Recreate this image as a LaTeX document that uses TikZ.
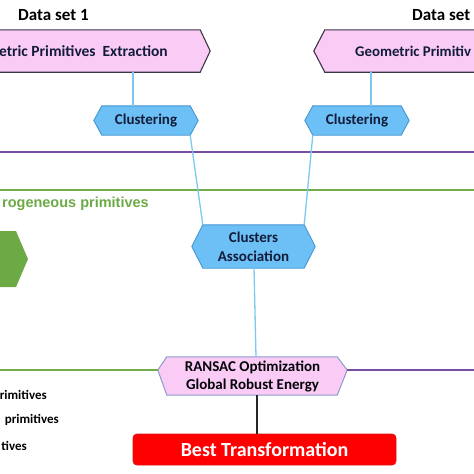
\documentclass[tikz,border=0pt]{standalone}
\usepackage{fontspec}
\setmainfont{Carlito}
\newfontfamily\arialfam{Liberation Sans}
\usetikzlibrary{calc,backgrounds}
\definecolor{pinkF}{RGB}{250,204,245}
\definecolor{pinkD}{RGB}{60,52,70}
\definecolor{ranD}{RGB}{140,155,200}
\definecolor{bluF}{RGB}{108,192,245}
\definecolor{bluD}{RGB}{70,150,210}
\definecolor{connC}{RGB}{125,200,238}
\definecolor{purpL}{RGB}{118,78,162}
\definecolor{grnL}{RGB}{112,173,71}
\definecolor{grnT}{RGB}{108,170,70}
\definecolor{redF}{RGB}{255,0,0}
\definecolor{redD}{RGB}{220,20,20}
\definecolor{navyT}{RGB}{18,28,58}
\newcommand{\hexpath}[3]{%
  \path[#1] (#2.west) -- ($(#2.north west)+(#3,0)$) -- ($(#2.north east)+(-#3,0)$) -- (#2.east)
    -- ($(#2.south east)+(-#3,0)$) -- ($(#2.south west)+(#3,0)$) -- cycle;}
\begin{document}
\begin{tikzpicture}[x=1pt,y=-1pt,
  box/.style={rectangle, inner sep=0pt, font={\fontsize{15}{19}\selectfont\bfseries}, text=navyT, align=center},
  plain/.style={inner sep=0pt, font={\fontsize{15.5}{19}\selectfont\bfseries}, text=navyT},
  hdr/.style={inner sep=0pt, font={\fontsize{17}{20}\selectfont\bfseries}, text=black},
  side/.style={inner sep=0pt, font={\fontsize{13}{15}\selectfont\bfseries}, text=black},
  gtext/.style={inner sep=0pt, font={\arialfam\fontsize{14.5}{17}\selectfont\bfseries}, text=grnT},
  pinkbox/.style={fill=pinkF, draw=pinkD, line width=1.1pt, line join=miter},
  ranbox/.style={fill=pinkF, draw=ranD, line width=1pt},
  blubox/.style={fill=bluF, draw=bluD, line width=0.9pt},
  conn/.style={draw=connC, line width=1.3pt},
  purp/.style={draw=purpL, line width=1.5pt},
  grn/.style={draw=grnL, line width=1.5pt}]
\useasboundingbox (0,0) rectangle (474,474);
\clip (0,0) rectangle (474,474);

% header labels
\node[hdr, anchor=base west] (ds1) at (18,20) {Data set 1};
\node[hdr, anchor=base west] (ds2) at (412,20) {Data set};

% top boxes (shape holders)
\node[rectangle, inner sep=0pt, minimum width=310pt, minimum height=42pt] (topL) at (55,51) {};
\node[rectangle, inner sep=0pt, minimum width=286pt, minimum height=42pt] (topR) at (457,51) {};

% clustering etc.
\node[box, minimum width=104pt, minimum height=29pt] (cl1) at (146,120.5) {Clustering};
\node[box, minimum width=104pt, minimum height=29pt] (cl2) at (357,120.5) {Clustering};
\node[box, minimum width=123pt, minimum height=43pt] (ca) at (253.5,246.5) {Clusters\\Association};
\node[box, font={\fontsize{15}{18}\selectfont\bfseries}, text=black!85!navyT, minimum width=189pt, minimum height=38pt] (ran) at (252.5,376) {RANSAC Optimization\\Global Robust Energy};
\node[rectangle, rounded corners=4pt, fill=redF, draw=redD, line width=0.8pt, inner sep=0pt,
      minimum width=263pt, minimum height=31pt, text=white,
      font={\fontsize{20}{22}\selectfont\bfseries}] (best) at (264.5,449.5) {Best Transformation};

\coordinate (rtl) at ($(ran.west)+(0,-6)$);
\coordinate (rtr) at ($(ran.east)+(0,-6)$);

\begin{scope}[on background layer]
  \path[pinkbox] (topL.north west) -- ($(topL.north east)+(-10,0)$) -- (topL.east)
     -- ($(topL.south east)+(-10,0)$) -- (topL.south west) -- cycle;
  \path[pinkbox] (topR.west) -- ($(topR.north west)+(11,0)$) -- (topR.north east)
     -- (topR.south east) -- ($(topR.south west)+(11,0)$) -- cycle;
  \hexpath{blubox}{cl1}{8}
  \hexpath{blubox}{cl2}{8}
  \hexpath{blubox}{ca}{11}
  \path[ranbox] (rtl) -- ($(ran.north west)+(9,0)$) -- ($(ran.north east)+(-10,0)$) -- (rtr)
     -- ($(ran.south east)+(-10,0)$) -- ($(ran.south west)+(9,0)$) -- cycle;
  % green arrow shape at left
  \path[fill=grnT] (-10,231) -- (16,231) -- (28,259) -- (16,287) -- (-10,287) -- cycle;
\end{scope}

% texts in the top boxes
\node[plain, anchor=base east] (tLt) at (168,56) {etric Primitives\ \ Extraction};
\node[plain, font={\fontsize{14.8}{19}\selectfont\bfseries}, anchor=base west] (tRt) at (355,56) {Geometric Primitiv};

% horizontal lines
\coordinate (pA) at (0,152);   \coordinate (pB) at (474,152);
\coordinate (gA) at (0,190);   \coordinate (gB) at (474,190);
\coordinate (gC) at (0,0 |- rtl);
\coordinate (pC) at (474,0 |- rtr);
\draw[purp] (pA) -- (pB);
\draw[grn] (gA) -- (gB);
\draw[grn] (rtl -| gC) -- (rtl);
\draw[purp] (rtr) -- (rtr -| pC);

% connectors
\coordinate (v1) at (133,0);
\coordinate (v2) at (371,0);
\draw[conn] (topL.south -| v1) -- (cl1.north -| v1);
\draw[conn] (topR.south -| v2) -- (cl2.north -| v2);
\draw[conn] ($(cl1.south east)+(-8,0)$) -- ($(ca.north west)+(11,0)$);
\draw[conn] ($(cl2.south west)+(8,0)$) -- ($(ca.north east)+(-11,0)$);
\draw[conn] ($(ca.south)+(0.5,0)$) -- ($(ran.north)+(3.5,0)$);
\coordinate (b1) at (257,0);
\draw[black!85, line width=1.4pt] (ran.south -| b1) -- (best.north -| b1);

% left-side texts
\node[gtext, anchor=base east] (het) at (149,207) {rogeneous primitives};
\node[side, anchor=base east] (s1) at (47,399) {rimitives};
\node[side, anchor=base east] (s2) at (59,423) {primitives};
\node[side, anchor=base east] (s3) at (27,450) {tives};
\end{tikzpicture}
\end{document}
